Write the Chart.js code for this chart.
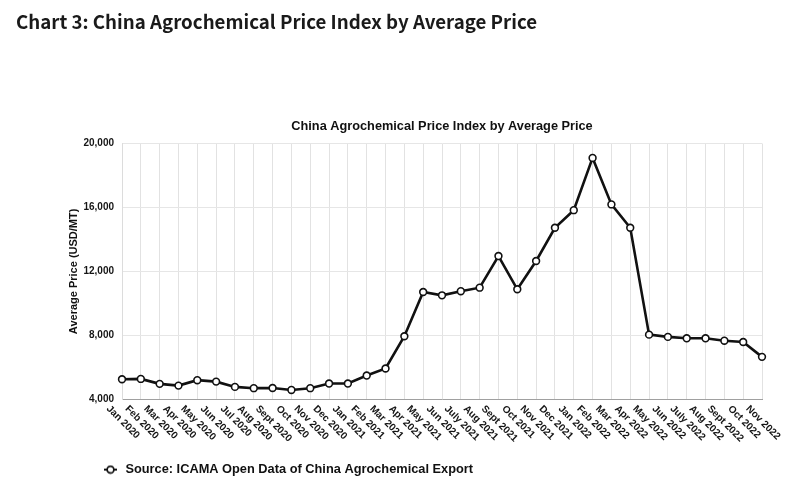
<!DOCTYPE html>
<html>
<head>
<meta charset="utf-8">
<script src="https://cdn.jsdelivr.net/npm/chart.js@4/dist/chart.umd.min.js"></script>
<style>
html,body{margin:0;padding:0;background:#ffffff;}
#wrap{width:800px;height:492px;position:relative;}
</style>
</head>
<body>
<div id="wrap"><canvas id="c" width="800" height="492"></canvas></div>
<script>
const months = [
  'Jan 2020','Feb 2020','Mar 2020','Apr 2020','May 2020','Jun 2020','Jul 2020','Aug 2020','Sept 2020','Oct 2020','Nov 2020','Dec 2020',
  'Jan 2021','Feb 2021','Mar 2021','Apr 2021','May 2021','Jun 2021','July 2021','Aug 2021','Sept 2021','Oct 2021','Nov 2021','Dec 2021',
  'Jan 2022','Feb 2022','Mar 2022','Apr 2022','May 2022','Jun 2022','July 2022','Aug 2022','Sept 2022','Oct 2022','Nov 2022'
];
const avgPrice = [
  5250, 5270, 4960, 4850, 5190, 5100, 4770, 4690, 4700, 4580, 4690, 4980,
  4980, 5480, 5920, 7940, 10710, 10500, 10760, 10980, 12960, 10880, 12650, 14730,
  15830, 19100, 16190, 14730, 8040, 7900, 7810, 7810, 7660, 7580, 6650
];
const yTickValues = [4000, 8000, 12000, 16000, 20000];
const seriesName = 'Source: ICAMA Open Data of China Agrochemical Export';
const mainTitle = 'Chart 3: China Agrochemical Price Index by Average Price';
const chartTitle = 'China Agrochemical Price Index by Average Price';
const yAxisTitle = 'Average Price (USD/MT)';

const AXIS_FONT = '"Liberation Sans", Arial, Helvetica, sans-serif';

// legend icon: line with open circle
const icon = document.createElement('canvas');
icon.width = 13; icon.height = 10;
(function(){
  const g = icon.getContext('2d');
  g.strokeStyle = '#111'; g.lineWidth = 2;
  g.beginPath(); g.moveTo(0,5); g.lineTo(13,5); g.stroke();
  g.beginPath(); g.arc(6.5,5,3.4,0,Math.PI*2);
  g.fillStyle = '#fff'; g.fill();
  g.lineWidth = 1.7; g.stroke();
})();

const slantedLabels = {
  id: 'slantedLabels',
  afterLayout(chart) {
    if (chart.legend) { chart.legend.left = 92; }
  },
  afterDraw(chart) {
    const xs = chart.scales.x;
    const ctx = chart.ctx;
    const base = chart.chartArea.bottom;
    ctx.save();
    ctx.font = 'bold 10px ' + AXIS_FONT;
    ctx.fillStyle = '#151515';
    ctx.textAlign = 'center';
    ctx.textBaseline = 'middle';
    const labels = chart.data.labels;
    for (let i = 0; i < labels.length; i++) {
      const x = xs.getPixelForValue(i);
      const w = ctx.measureText(labels[i]).width;
      const cy = base + 8 + (w / 2) * Math.SQRT1_2;
      ctx.save();
      ctx.translate(x + 1, cy);
      ctx.rotate(Math.PI / 4);
      ctx.fillText(labels[i], 0, 0);
      ctx.restore();
    }
    ctx.restore();
  }
};

new Chart(document.getElementById('c'), {
  type: 'line',
  data: {
    labels: months,
    datasets: [{
      label: seriesName,
      data: avgPrice,
      borderColor: '#111111',
      borderWidth: 2.6,
      pointRadius: 3.4,
      pointBorderWidth: 1.6,
      pointBackgroundColor: '#ffffff',
      pointBorderColor: '#111111',
      tension: 0,
      fill: false
    }]
  },
  options: {
    responsive: false,
    animation: false,
    layout: { padding: { left: 16, right: 38, top: 0, bottom: 6 } },
    plugins: {
      title: {
        display: true,
        text: mainTitle,
        align: 'start',
        color: '#1a1a1a',
        font: { family: '"Noto Sans CJK JP", "Noto Sans", sans-serif', size: 18.7, weight: 'bold' },
        padding: { top: 11, bottom: 0 }
      },
      subtitle: {
        display: true,
        text: chartTitle,
        fullSize: false,
        color: '#111111',
        font: { family: AXIS_FONT, size: 12.75, weight: 'bold' },
        padding: { top: 85.6, bottom: 9.2 }
      },
      legend: {
        display: true,
        position: 'bottom',
        align: 'start',
        labels: {
          usePointStyle: true,
          pointStyle: icon,
          pointStyleWidth: 17,
          padding: 10,
          color: '#111111',
          font: { family: AXIS_FONT, size: 12.8, weight: 'bold' }
        }
      },
      tooltip: { enabled: false }
    },
    scales: {
      x: {
        type: 'category',
        offset: false,
        afterFit(s) { s.height = 54; },
        ticks: { display: false },
        grid: { color: '#e2e2e2', lineWidth: 1, drawTicks: false },
        border: { color: '#a0a0a0', width: 1 }
      },
      y: {
        min: 4000,
        max: 20000,
        afterFit(s) { s.width = 106; },
        afterBuildTicks(s) { s.ticks = yTickValues.map(v => ({ value: v })); },
        ticks: {
          padding: 8,
          color: '#151515',
          font: { family: AXIS_FONT, size: 10, weight: 'bold' },
          callback: v => v.toLocaleString('en-US')
        },
        grid: { color: '#e6e6e6', lineWidth: 1, drawTicks: false },
        border: { color: '#dcdcdc', width: 1 },
        title: {
          display: true,
          text: yAxisTitle,
          color: '#111111',
          font: { family: AXIS_FONT, size: 11, weight: 'bold' },
          padding: { top: 51, bottom: 0 }
        }
      }
    }
  },
  plugins: [slantedLabels]
});
</script>
</body>
</html>
